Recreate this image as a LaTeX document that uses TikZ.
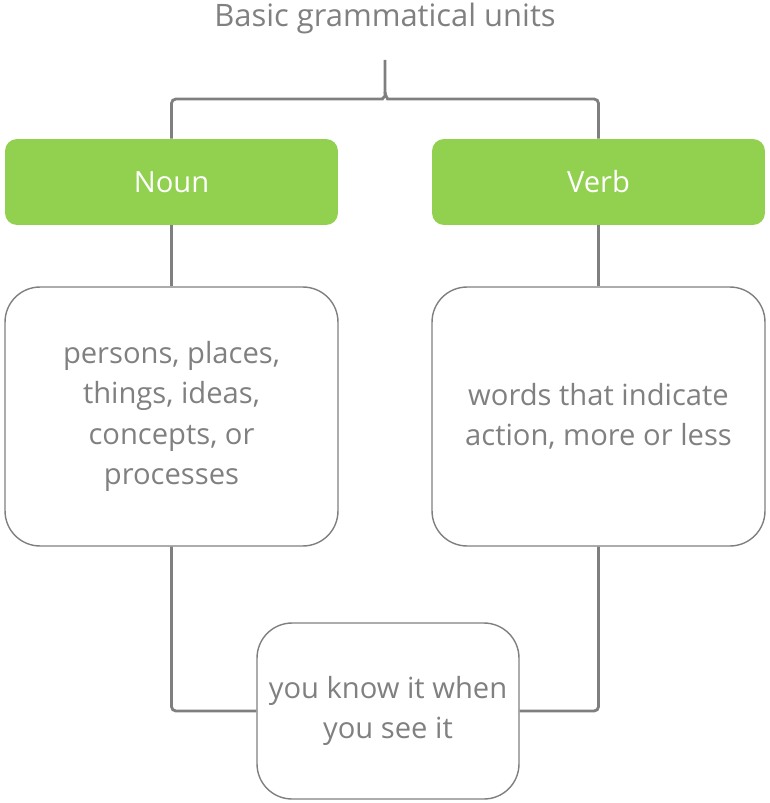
\documentclass[tikz,border=0pt]{standalone}
\usepackage{fontspec}
\setmainfont{Open Sans}
\definecolor{UnitGreen}{HTML}{92D050}
\definecolor{UnitText}{HTML}{808080}
\definecolor{UnitLine}{HTML}{7F7F7F}

\begin{document}
\begin{tikzpicture}[x=0.02cm, y=-0.02cm,
    head/.style={fill=UnitGreen, rounded corners=0.24cm, minimum width=6.66cm,
                 minimum height=1.72cm, inner sep=0pt, text=white,
                 font=\fontsize{16.6}{23}\selectfont},
    desc/.style={draw=UnitLine, line width=0.8pt, rounded corners=0.7cm,
                 minimum width=6.66cm, minimum height=5.18cm, inner sep=0pt,
                 align=center, text=UnitText, font=\fontsize{16.6}{23}\selectfont},
    link/.style={draw=UnitLine, line width=1.6pt, rounded corners=2.5pt}]

    \useasboundingbox (0,0) rectangle (769,803);

    % titulo e chave
    \node[anchor=base, text=UnitText, font=\fontsize{17.6}{20}\selectfont]
        (title) at (385,27) {Basic grammatical units};
    \coordinate (stem) at (385,60);
    \coordinate (tip) at (385,92);
    \coordinate (braceL) at (378,99);
    \coordinate (braceR) at (392,99);

    % classes
    \node[head] (noun) at (171.5,182) {\raisebox{-2pt}{Noun}};
    \node[head] (verb) at (598.5,182) {\raisebox{-2pt}{Verb}};

    \node[desc] (nounDesc) at (171.5,416.5) {persons, places,\\ things, ideas,\\ concepts, or\\ processes};
    \node[desc] (verbDesc) at (598.5,416.5) {words that indicate\\ action, more or less};

    \node[desc, minimum width=5.24cm, minimum height=3.52cm] (seeIt) at (388,711)
        {you know it when\\ you see it};

    % ligacoes
    \draw[link] (noun.north) |- (braceL) to[out=0, in=-90] (tip) -- (stem);
    \draw[link] (verb.north) |- (braceR) to[out=180, in=-90] (tip);
    \draw[link] (noun.south) -- (nounDesc.north);
    \draw[link] (verb.south) -- (verbDesc.north);
    \draw[link] (nounDesc.south) |- (seeIt.west);
    \draw[link] (verbDesc.south) |- (seeIt.east);
\end{tikzpicture}
\end{document}
